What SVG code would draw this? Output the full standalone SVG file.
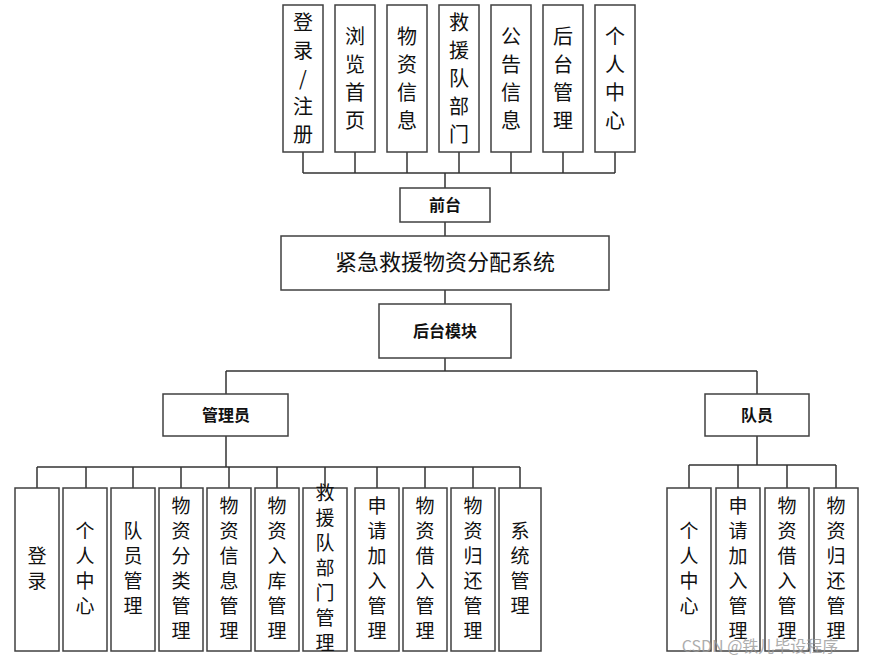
<svg xmlns="http://www.w3.org/2000/svg" width="869" height="664" viewBox="0 0 869 664">
<style>
.b{fill:#fff;stroke:#404040;stroke-width:1.5}
.c{fill:none;stroke:#333;stroke-width:1.5}
text{font-family:"Noto Sans CJK SC","Liberation Sans",sans-serif;fill:#111;text-anchor:middle}
.t{font-size:20px}.s{font-size:19px}.h{font-size:16px;font-weight:bold}
</style>
<rect width="869" height="664" fill="#fff"/>
<g id="connectors" class="c">
<path d="M303 152V173M355 152V173M407 152V173M459 152V173M511 152V173M563 152V173M615 152V173M303 173H615M445 173V188M445 222V236M445 290V304M445 358V371M226 371H757M226 371V394M757 371V394"/>
<path d="M226 436V467M37 467H520M37 467V488M86 467V488M133 467V488M181 467V488M229 467V488M277 467V488M325 467V488M377 467V488M425 467V488M473 467V488M520 467V488"/>
<path d="M757 436V465M689 465H836M689 465V488M738 465V488M787 465V488M836 465V488"/>
</g>
<g id="top" class="t">
<g id="n1"><rect class="b" x="283" y="5" width="40" height="147"/><text x="303" y="30">登</text><text x="303" y="58">录</text><text x="303" y="86">/</text><text x="303" y="114">注</text><text x="303" y="142">册</text></g>
<g id="n2"><rect class="b" x="335" y="5" width="40" height="147"/><text x="355" y="44">浏</text><text x="355" y="72">览</text><text x="355" y="100">首</text><text x="355" y="128">页</text></g>
<g id="n3"><rect class="b" x="387" y="5" width="40" height="147"/><text x="407" y="44">物</text><text x="407" y="72">资</text><text x="407" y="100">信</text><text x="407" y="128">息</text></g>
<g id="n4"><rect class="b" x="439" y="5" width="40" height="147"/><text x="459" y="30">救</text><text x="459" y="58">援</text><text x="459" y="86">队</text><text x="459" y="114">部</text><text x="459" y="142">门</text></g>
<g id="n5"><rect class="b" x="491" y="5" width="40" height="147"/><text x="511" y="44">公</text><text x="511" y="72">告</text><text x="511" y="100">信</text><text x="511" y="128">息</text></g>
<g id="n6"><rect class="b" x="543" y="5" width="40" height="147"/><text x="563" y="44">后</text><text x="563" y="72">台</text><text x="563" y="100">管</text><text x="563" y="128">理</text></g>
<g id="n7"><rect class="b" x="595" y="5" width="40" height="147"/><text x="615" y="44">个</text><text x="615" y="72">人</text><text x="615" y="100">中</text><text x="615" y="128">心</text></g>
</g>
<g id="qt"><rect class="b" x="400" y="188" width="90" height="34"/><text class="h" x="445" y="211">前台</text></g>
<g id="sys"><rect class="b" x="281" y="236" width="328" height="54"/><text x="445" y="270" style="font-size:22px">紧急救援物资分配系统</text></g>
<g id="ht"><rect class="b" x="379" y="304" width="132" height="54"/><text class="h" x="445" y="337">后台模块</text></g>
<g id="admin"><rect class="b" x="163" y="394" width="125" height="42"/><text class="h" x="226" y="421">管理员</text></g>
<g id="member"><rect class="b" x="705" y="394" width="104" height="42"/><text class="h" x="757" y="421">队员</text></g>
<g id="bottom" class="s">
<g id="a1"><rect class="b" x="15" y="488" width="44" height="163"/><text x="37" y="563">登</text><text x="37" y="588">录</text></g>
<g id="a2"><rect class="b" x="63" y="488" width="44" height="163"/><text x="85" y="538">个</text><text x="85" y="563">人</text><text x="85" y="588">中</text><text x="85" y="613">心</text></g>
<g id="a3"><rect class="b" x="111" y="488" width="44" height="163"/><text x="133" y="538">队</text><text x="133" y="563">员</text><text x="133" y="588">管</text><text x="133" y="613">理</text></g>
<g id="a4"><rect class="b" x="159" y="488" width="44" height="163"/><text x="181" y="513">物</text><text x="181" y="538">资</text><text x="181" y="563">分</text><text x="181" y="588">类</text><text x="181" y="613">管</text><text x="181" y="638">理</text></g>
<g id="a5"><rect class="b" x="207" y="488" width="44" height="163"/><text x="229" y="513">物</text><text x="229" y="538">资</text><text x="229" y="563">信</text><text x="229" y="588">息</text><text x="229" y="613">管</text><text x="229" y="638">理</text></g>
<g id="a6"><rect class="b" x="255" y="488" width="44" height="163"/><text x="277" y="513">物</text><text x="277" y="538">资</text><text x="277" y="563">入</text><text x="277" y="588">库</text><text x="277" y="613">管</text><text x="277" y="638">理</text></g>
<g id="a7"><rect class="b" x="303" y="488" width="44" height="163"/><text x="325" y="500">救</text><text x="325" y="525">援</text><text x="325" y="550">队</text><text x="325" y="575">部</text><text x="325" y="600">门</text><text x="325" y="625">管</text><text x="325" y="650">理</text></g>
<g id="a8"><rect class="b" x="355" y="488" width="44" height="163"/><text x="377" y="513">申</text><text x="377" y="538">请</text><text x="377" y="563">加</text><text x="377" y="588">入</text><text x="377" y="613">管</text><text x="377" y="638">理</text></g>
<g id="a9"><rect class="b" x="403" y="488" width="44" height="163"/><text x="425" y="513">物</text><text x="425" y="538">资</text><text x="425" y="563">借</text><text x="425" y="588">入</text><text x="425" y="613">管</text><text x="425" y="638">理</text></g>
<g id="a10"><rect class="b" x="451" y="488" width="44" height="163"/><text x="473" y="513">物</text><text x="473" y="538">资</text><text x="473" y="563">归</text><text x="473" y="588">还</text><text x="473" y="613">管</text><text x="473" y="638">理</text></g>
<g id="a11"><rect class="b" x="499" y="488" width="42" height="163"/><text x="520" y="538">系</text><text x="520" y="563">统</text><text x="520" y="588">管</text><text x="520" y="613">理</text></g>
<g id="m1"><rect class="b" x="667" y="488" width="44" height="163"/><text x="689" y="538">个</text><text x="689" y="563">人</text><text x="689" y="588">中</text><text x="689" y="613">心</text></g>
<g id="m2"><rect class="b" x="716" y="488" width="44" height="163"/><text x="738" y="513">申</text><text x="738" y="538">请</text><text x="738" y="563">加</text><text x="738" y="588">入</text><text x="738" y="613">管</text><text x="738" y="638">理</text></g>
<g id="m3"><rect class="b" x="765" y="488" width="44" height="163"/><text x="787" y="513">物</text><text x="787" y="538">资</text><text x="787" y="563">借</text><text x="787" y="588">入</text><text x="787" y="613">管</text><text x="787" y="638">理</text></g>
<g id="m4"><rect class="b" x="814" y="488" width="44" height="163"/><text x="836" y="513">物</text><text x="836" y="538">资</text><text x="836" y="563">归</text><text x="836" y="588">还</text><text x="836" y="613">管</text><text x="836" y="638">理</text></g>
</g>
<text x="760" y="652" style="font-size:16px;fill:#999;opacity:0.8">CSDN @铁儿毕设程序</text>
</svg>
